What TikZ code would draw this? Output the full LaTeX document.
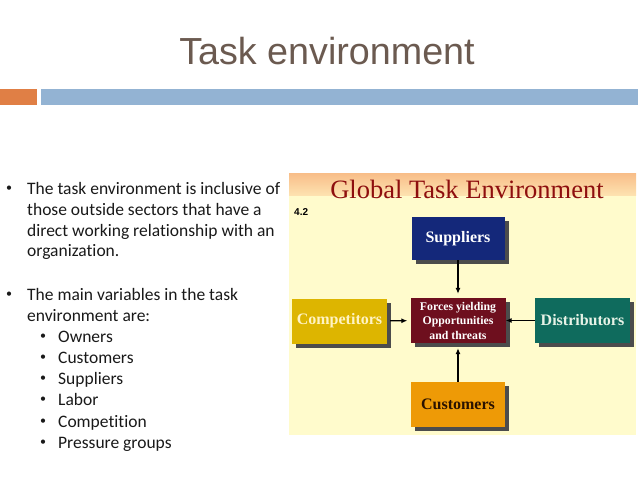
\documentclass[tikz,border=0pt]{standalone}
\usepackage{fontspec}
\setmainfont{Carlito}[Ligatures=NoCommon]
\newfontfamily\headfont{Liberation Sans}
\newfontfamily\boxfont{Liberation Serif}
\usepackage{xcolor}
\usepackage{tikz}
\usetikzlibrary{arrows.meta,positioning,shadows}
\definecolor{headGrey}{HTML}{6B5A50}
\definecolor{barOrange}{HTML}{E07F45}
\definecolor{barBlue}{HTML}{93B3D3}
\definecolor{panelCream}{HTML}{FFFBCC}
\definecolor{bandTop}{HTML}{F8BD88}
\definecolor{bandBot}{HTML}{FDE2B0}
\definecolor{gteRed}{HTML}{8E0E0E}
\definecolor{supBlue}{HTML}{14287A}
\definecolor{forMaroon}{HTML}{6E0F1E}
\definecolor{comGold}{HTML}{DDB500}
\definecolor{comText}{HTML}{FFF3C4}
\definecolor{disTeal}{HTML}{0F6B5D}
\definecolor{disText}{HTML}{E6F2E6}
\definecolor{cusOrange}{HTML}{EE9A06}
\definecolor{cusText}{HTML}{2A1200}

\tikzset{
  fbox/.style={rectangle,minimum width=95pt,minimum height=45pt,inner sep=0pt,align=center,
    font=\boxfont\bfseries\fontsize{16}{18}\selectfont,
    drop shadow={shadow xshift=4pt,shadow yshift=-4pt,fill=black!70,opacity=1}},
  flow/.style={-{Latex[length=6pt,width=5pt]},line width=1.1pt,black},
  txt/.style={anchor=base west,inner sep=0pt,font=\fontsize{17.5}{20.5}\selectfont,text=black!90},
  dot/.style={anchor=base,inner sep=0pt,yshift=3pt,font=\fontsize{12}{14}\selectfont,text=black!90}
}

\begin{document}
\begin{tikzpicture}[x=1pt,y=-1pt]
  \useasboundingbox (0,0) rectangle (638,479);
  % heading and bar
  \node[anchor=base,inner sep=0pt,font=\headfont\fontsize{37.7}{40}\selectfont,text=headGrey] (title) at (327,64) {Task environment};
  \fill[barOrange] (0,89) rectangle (37,104.5);
  \fill[barBlue] (41,89) rectangle (638,104.5);

  % bullet text
  \node[dot] (b1) at (9,194) {•};
  \node[dot] (b2) at (9,300) {•};
  \foreach \y/\t [count=\k] in {194/The task environment is inclusive of,215/those outside sectors that have a,236/direct working relationship with an,256/organization.,300/The main variables in the task,321/environment are:}
    \node[txt] (para\k) at (27,\y) {\t};
  \foreach \y/\t [count=\k] in {342/Owners,363/Customers,384/Suppliers,405/Labor,427/Competition,448/Pressure groups}{
    \node[dot] (sb\k) at (43,\y) {•};
    \node[txt] (sub\k) at (58,\y) {\t};
  }

  % figure panel
  \fill[panelCream] (289,173) rectangle (636,435);
  \shade[top color=bandTop,bottom color=bandBot] (289,173) rectangle (636,195);
  \node[anchor=base,inner sep=0pt,font=\boxfont\fontsize{26.5}{30}\selectfont,text=gteRed] (gte) at (467,198) {Global Task Environment};
  \node[anchor=base west,inner sep=0pt,font=\headfont\bfseries\fontsize{10}{12}\selectfont] (fig) at (294,215) {4.2};

  \node[fbox,fill=supBlue,text=white,minimum width=93pt,minimum height=43pt] (sup) at (458,238.5) {Suppliers};
  \node[fbox,fill=forMaroon,text=white,font=\boxfont\bfseries\fontsize{11.8}{14.5}\selectfont] (forces) at (458,320.5) {Forces yielding\\Opportunities\\and threats};
  \node[fbox,fill=comGold,text=comText] (comp) at (339.5,321) {Competitors};
  \node[fbox,fill=disTeal,text=disText] (dist) at (582.5,320.5) {Distributors};
  \node[fbox,fill=cusOrange,text=cusText,minimum width=94pt] (cust) at (458,404.5) {Customers};

  \draw[flow,shorten >=4pt] (sup) -- (forces);
  \draw[flow,shorten <=3pt,shorten >=3pt] (comp) -- (forces);
  \draw[flow] (dist) -- (forces);
  \draw[flow,shorten >=5pt] (cust) -- (forces);
\end{tikzpicture}
\end{document}
